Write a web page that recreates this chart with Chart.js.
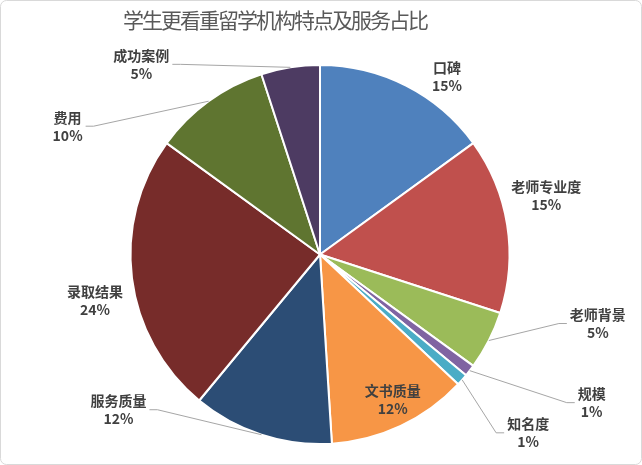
<!DOCTYPE html>
<html>
<head>
<meta charset="utf-8">
<script src="https://cdn.jsdelivr.net/npm/chart.js@4"></script>
<style>
  body { margin: 0; background: #fff; }
  canvas { display: block; }
</style>
</head>
<body>
<canvas id="myChart" width="642" height="465"></canvas>
<script>
const title = '学生更看重留学机构特点及服务占比';
const labels = ['口碑', '老师专业度', '老师背景', '规模', '知名度', '文书质量', '服务质量', '录取结果', '费用', '成功案例'];
const values = [15, 15, 5, 1, 1, 12, 12, 24, 10, 5];
const colors = ['#4F81BD', '#C0504D', '#9BBB59', '#8064A2', '#4BACC6', '#F79646', '#2C4D75', '#772C2A', '#5F7530', '#4D3B62'];

// where each label sits, relative to the middle of its slice's outer edge
const labelOffsets = [[41, -9], [39, -29], [109, -17], [122, 32], [66, 53], [-8, -26], [-143, -25], [-37, 22], [-141, 25], [-149, -3]];
const hasLeader = [false, false, true, true, true, false, true, false, true, true];

const frame = {
  id: 'frame',
  beforeDraw(chart) {
    const c = chart.ctx;
    c.save();
    c.fillStyle = '#fff';
    c.fillRect(0, 0, chart.width, chart.height);
    c.strokeStyle = '#d9d9d9';
    c.lineWidth = 1;
    c.beginPath();
    c.roundRect(0.5, 0.5, chart.width - 1, chart.height - 1, 6);
    c.stroke();
    // title
    c.fillStyle = '#595959';
    c.font = '21px "Noto Sans CJK SC"';
    c.letterSpacing = '-2px';
    c.textAlign = 'center';
    c.textBaseline = 'middle';
    c.fillText(title, 275, 20);
    c.restore();
  }
};

const sliceLabels = {
  id: 'sliceLabels',
  afterDatasetsDraw(chart) {
    const c = chart.ctx;
    const meta = chart.getDatasetMeta(0);
    const total = values.reduce((a, b) => a + b, 0);
    c.save();
    c.font = 'bold 14px "Noto Sans CJK SC"';
    c.textAlign = 'center';
    c.textBaseline = 'middle';
    meta.data.forEach((arc, i) => {
      const p = arc.getProps(['x', 'y', 'startAngle', 'endAngle', 'outerRadius'], true);
      const mid = (p.startAngle + p.endAngle) / 2;
      const ax = p.x + Math.cos(mid) * p.outerRadius;
      const ay = p.y + Math.sin(mid) * p.outerRadius;
      const lx = ax + labelOffsets[i][0];
      const ly = ay + labelOffsets[i][1];
      const line1 = labels[i];
      const line2 = Math.round(values[i] / total * 100) + '%';
      if (hasLeader[i]) {
        const half = Math.max(c.measureText(line1).width, c.measureText(line2).width) / 2;
        const side = ax < lx ? -1 : 1;
        const sx = lx + side * (half + 3);
        c.strokeStyle = '#a6a6a6';
        c.lineWidth = 1;
        c.beginPath();
        c.moveTo(sx, ly);
        c.lineTo(sx + side * 8, ly);
        c.lineTo(ax, ay);
        c.stroke();
      }
      c.fillStyle = '#404040';
      c.fillText(line1, lx, ly - 9);
      c.fillText(line2, lx, ly + 9);
    });
    c.restore();
  }
};

const ctx = document.getElementById('myChart').getContext('2d');
const pieChart = new Chart(ctx, {
  type: 'pie',
  data: {
    labels: labels,
    datasets: [{
      data: values,
      backgroundColor: colors,
      borderColor: '#ffffff',
      borderWidth: 2
    }]
  },
  options: {
    responsive: false,
    animation: false,
    layout: { padding: { top: 64, bottom: 20, left: 0, right: 2 } },
    plugins: {
      legend: { display: false },
      title: { display: false },
      tooltip: { enabled: false }
    }
  },
  plugins: [frame, sliceLabels]
});
</script>
</body>
</html>
